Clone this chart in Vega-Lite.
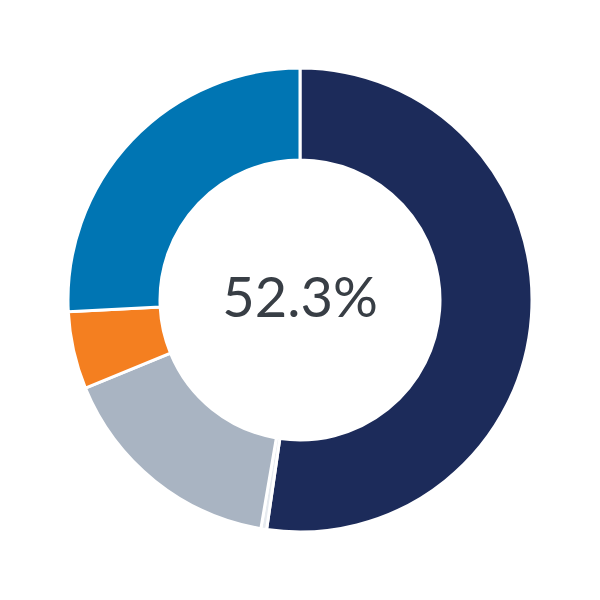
{
  "$schema": "https://vega.github.io/schema/vega-lite/v6.json",
  "width": 600,
  "height": 600,
  "autosize": {"type": "fit", "contains": "padding"},
  "padding": 0,
  "background": "white",
  "view": {"stroke": null},
  "layer": [
    {
      "data": {"values": [
        {"category": "A", "value": 52.3, "order": 1},
        {"category": "B", "value": 0.4, "order": 2},
        {"category": "C", "value": 16.1, "order": 3},
        {"category": "D", "value": 5.4, "order": 4},
        {"category": "E", "value": 25.8, "order": 5}
      ]},
      "mark": {"type": "arc", "outerRadius": 232, "innerRadius": 140, "stroke": "white", "strokeWidth": 3},
      "encoding": {
        "theta": {"field": "value", "type": "quantitative", "stack": true},
        "order": {"field": "order", "type": "quantitative"},
        "color": {
          "field": "category",
          "type": "nominal",
          "scale": {"domain": ["A", "B", "C", "D", "E"], "range": ["#1c2b5a", "#e6eaef", "#a9b4c2", "#f47f20", "#0075b3"]},
          "legend": null
        }
      }
    },
    {
      "data": {"values": [{"label": "52.3%"}]},
      "mark": {"type": "text", "font": "Lato", "fontSize": 56, "color": "#383e45", "align": "center", "baseline": "middle", "dy": 0},
      "encoding": {"text": {"field": "label", "type": "nominal"}}
    }
  ]
}
